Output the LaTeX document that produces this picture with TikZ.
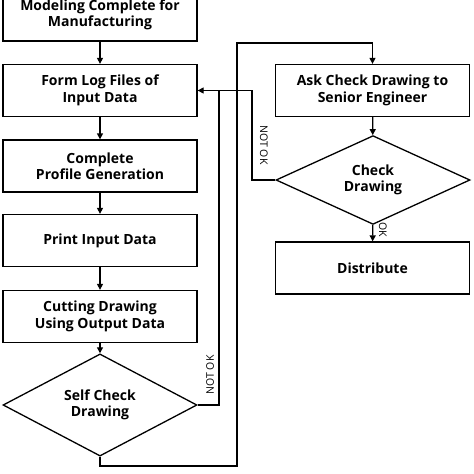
\documentclass[tikz,border=0pt]{standalone}
\usepackage{fontspec}
\setmainfont{Open Sans}
\usetikzlibrary{shapes.geometric,arrows.meta}
\begin{document}
\begin{tikzpicture}[x=1pt,y=-1pt,
  box/.style={draw,line width=1.3pt,minimum width=194pt,minimum height=52pt,inner sep=1pt,align=center,font=\fontsize{14}{16.5}\selectfont\bfseries},
  dia/.style={draw,diamond,line width=1.3pt,minimum width=194pt,minimum height=78pt,inner sep=0pt,align=center,font=\fontsize{14}{16.5}\selectfont\bfseries},
  conn/.style={line width=1.3pt},
  arr/.style={conn,-{Triangle[length=6pt,width=6pt]}},
  lbl/.style={font=\fontsize{10.5}{11}\selectfont,inner sep=1pt}]
\useasboundingbox (0,0) rectangle (474,474);
\node[box] (m) at (100,15) {Modeling Complete for\\Manufacturing};
\node[box] (f) at (100,90.5) {Form Log Files of\\Input Data};
\node[box] (c) at (100,166) {Complete\\Profile Generation};
\node[box] (p) at (100,240.5) {Print Input Data};
\node[box] (u) at (100,316.5) {Cutting Drawing\\Using Output Data};
\node[dia] (s) at (100,405) {Self Check\\Drawing};
\node[box] (a) at (372.5,90.5) {Ask Check Drawing to\\Senior Engineer};
\node[dia] (k) at (373,180) {Check\\Drawing};
\node[box] (d) at (372.5,268) {Distribute};
\draw[arr] (m) -- (f);
\draw[arr] (f) -- (c);
\draw[arr] (c) -- (p);
\draw[arr] (p) -- (u);
\draw[arr] (u) -- (s);
\draw[arr] (a) -- (k);
\draw[arr] (k) -- (d);
\coordinate (j1) at (219,405);
\coordinate (j2) at (252,180);
\coordinate (b1) at (100,466);
\coordinate (b2) at (237,466);
\coordinate (b3) at (237,43);
\coordinate (b4) at (372.5,43);
\draw[conn] (s.east) -- (j1) -- (j1 |- f.east);
\draw[arr] (k.west) -- (j2) -- (j2 |- f.east) -- (f.east);
\draw[arr] (s.south) -- (b1) -- (b2) -- (b3) -- (b4) -- (a.north);
\node[lbl,rotate=-90] (l1) at (264,145) {NOT OK};
\node[lbl,rotate=90] (l2) at (210,375) {NOT OK};
\node[lbl,rotate=-90] (l3) at (383,230) {OK};
\end{tikzpicture}
\end{document}
